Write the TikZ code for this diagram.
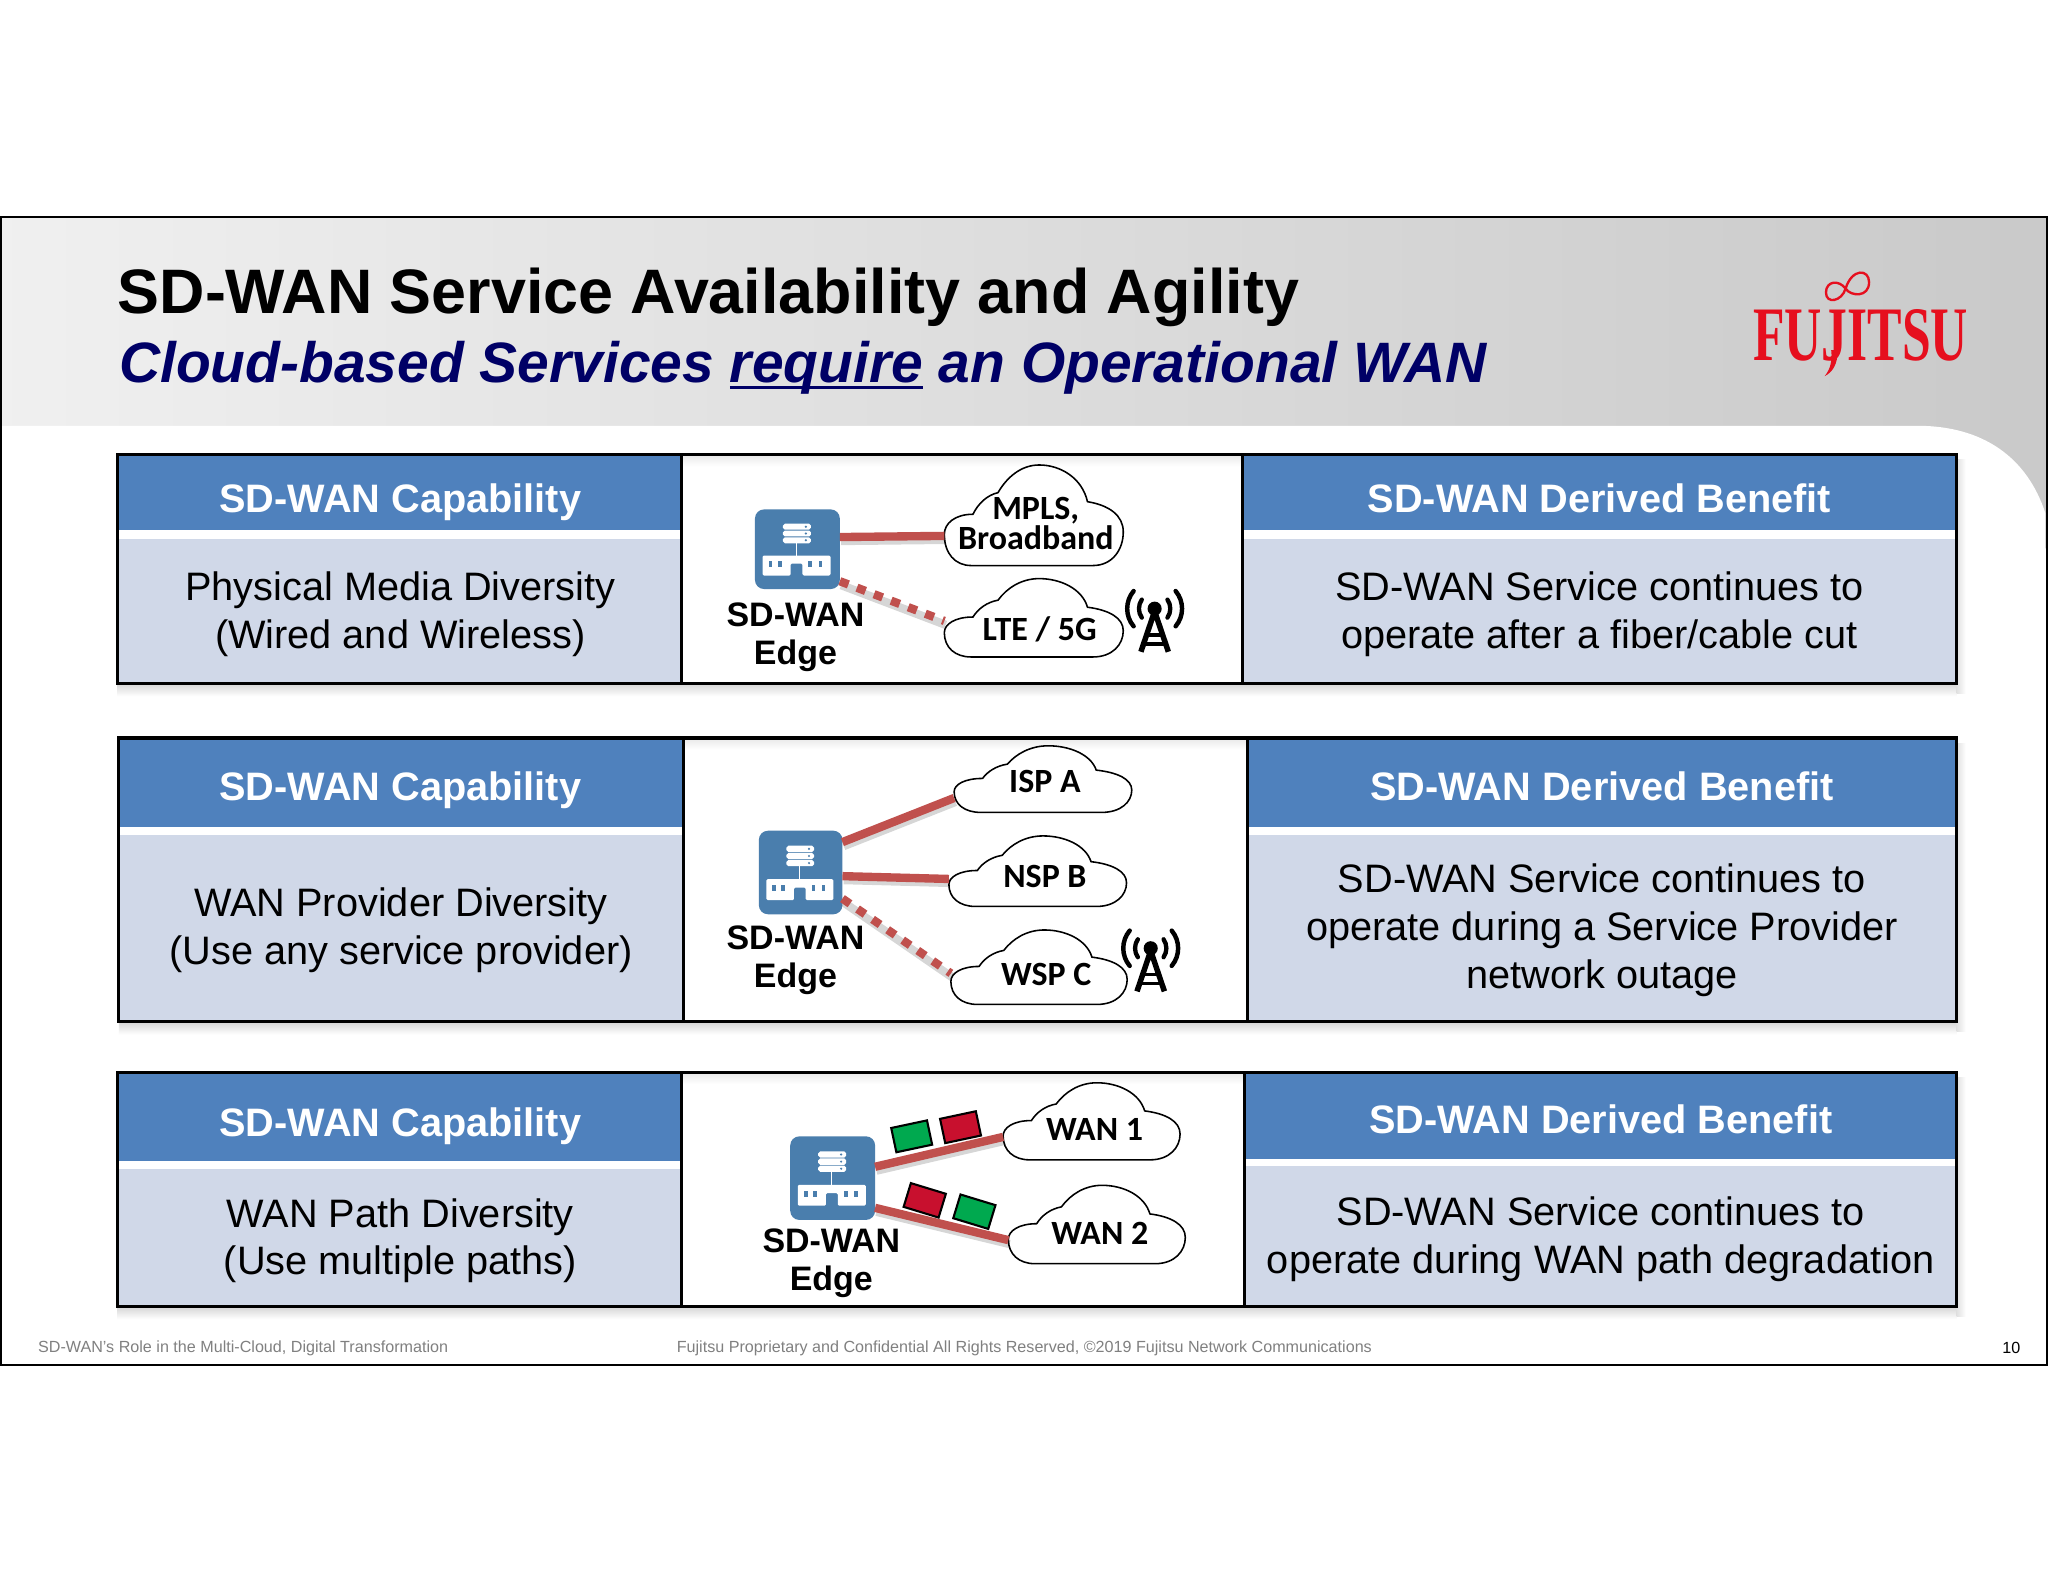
\documentclass[tikz,border=0pt]{standalone}
\usepackage{fontspec}
\setmainfont{Liberation Sans}
\newfontfamily\cloudfont{Carlito}
\newfontfamily\logofont{Liberation Serif}
\usetikzlibrary{calc}
\definecolor{hdrblue}{HTML}{4F81BD}
\definecolor{bodyblue}{HTML}{D0D8E8}
\definecolor{iconblue}{HTML}{4A7EAD}
\definecolor{linkred}{HTML}{C0504D}
\definecolor{navy}{HTML}{000066}
\definecolor{fjred}{HTML}{E60F1E}
\definecolor{pktgreen}{HTML}{00A94F}
\definecolor{pktred}{HTML}{C8102E}
\definecolor{footgray}{HTML}{808080}
\newcommand{\thickul}[1]{\setbox0\hbox{#1}\rlap{\rule[-4.6pt]{\wd0}{2.4pt}}#1}
\tikzset{
  hdr/.style={anchor=base,text=white,font=\bfseries\fontsize{30.4}{36}\selectfont,inner sep=0pt},
  bodytxt/.style={text=black,font=\fontsize{30.4}{36.6}\selectfont,align=center,inner sep=0pt},
  edgetxt/.style={text=black,font=\bfseries\fontsize{26}{29}\selectfont,align=center,inner sep=0pt},
  cloudtxt/.style={text=black,font=\cloudfont\bfseries\fontsize{26}{23}\selectfont,align=center,inner sep=0pt},
  foot/.style={text=footgray,font=\fontsize{12.35}{15}\selectfont,inner sep=0pt},
  linkbase/.style={line width=6.4pt,preaction={draw=black,draw opacity=.16,line width=6.4pt,transform canvas={xshift=1pt,yshift=-3pt}},draw=linkred},
  link/.style={linkbase},
  dlink/.style={linkbase,dash pattern=on 7pt off 7pt},
  pkt/.style={draw=black,line width=1.6pt,minimum width=28pt,minimum height=19pt,inner sep=0pt},
  hit/.style={inner sep=0pt,outer sep=0pt,rectangle},
}
% panel: x1 x2 ytop headerbottom stripbottom ybottom
\newcommand{\cellbox}[6]{%
  \fill[hdrblue] (#1,#3) rectangle (#2,#4);
  \fill[white] (#1,#4) rectangle (#2,#5);
  \fill[bodyblue] (#1,#5) rectangle (#2,#6);
}
% row frame: x1 xa xb x2 ytop ybottom
\newcommand{\rowframe}[6]{%
  \shade[top color=black!17,bottom color=white] (#1,#6) rectangle (#4,#6+10);
  \shade[left color=black!12,right color=white] (#4,#5+4) rectangle (#4+7,#6+8);
  \fill[white] (#2,#5) rectangle (#3,#6);
  \shade[top color=black!9,bottom color=white] (#2,#5) rectangle (#3,#5+9);
}
\newcommand{\rowlines}[6]{%
  \draw[black,line width=2.4pt] (#1,#5) rectangle (#4,#6);
  \draw[black,line width=2.2pt] (#2,#5) -- (#2,#6) (#3,#5) -- (#3,#6);
}
% cloud: name x1 y1 x2 y2
\newcommand{\netcloud}[5]{%
  \pgfmathsetmacro{\cw}{#4-#2}\pgfmathsetmacro{\ch}{#5-#3}%
  \begin{scope}[shift={(#2,#3)},x=\cw pt,y=-\ch pt]
    \draw[black,line width=1.2pt,fill=white]
      (.16,.49) .. controls (.06,.49) and (0,.58) .. (0,.69)
      .. controls (0,.88) and (.06,1) .. (.15,1) -- (.83,1)
      .. controls (.94,1) and (1,.84) .. (1,.665)
      .. controls (1,.5) and (.92,.40) .. (.80,.365)
      .. controls (.77,.13) and (.65,0) .. (.53,0)
      .. controls (.43,0) and (.35,.12) .. (.30,.275)
      .. controls (.24,.30) and (.19,.38) .. (.16,.49) -- cycle;
  \end{scope}
  \node[hit,minimum width=\cw pt,minimum height=\ch pt] (#1) at ({(#2+#4)/2},{(#3+#5)/2}) {};
}
% edge icon: name x1 y1 x2 y2
\newcommand{\edgeicon}[5]{%
  \pgfmathsetmacro{\cw}{#4-#2}\pgfmathsetmacro{\ch}{#5-#3}%
  \node[hit,fill=iconblue,rounded corners=7pt,minimum width=\cw pt,minimum height=\ch pt] (#1) at ({(#2+#4)/2},{(#3+#5)/2}) {};
  \begin{scope}[shift={(#2,#3)},x=\cw pt,y=-\ch pt]
    \foreach \yy in {.18,.265,.35}{
      \fill[white,rounded corners=1.5pt] (.33,\yy) rectangle (.66,\yy+.075);
      \fill[iconblue] (.60,\yy+.0375) circle[radius=.9pt];
    }
    \draw[white,line width=.9pt] (.49,.42) -- (.49,.6);
    \fill[white,rounded corners=1pt] (.09,.58) -- (.89,.58) -- (.89,.83) -- (.56,.83) -- (.56,.68) -- (.42,.68) -- (.42,.83) -- (.09,.83) -- cycle;
    \foreach \xx in {.16,.27,.63,.75}{
      \fill[iconblue] (\xx,.65) rectangle (\xx+.045,.72);
    }
  \end{scope}
}
% antenna: cx cy
\newcommand{\antenna}[2]{%
  \begin{scope}[shift={(#1,#2)},y=1pt]
    \draw[black,line width=3.3pt,line cap=round] (145:12) arc[start angle=145,end angle=215,radius=12pt];
    \draw[black,line width=3.3pt,line cap=round] (35:12) arc[start angle=35,end angle=-35,radius=12pt];
    \draw[black,line width=3.4pt,line cap=round] (140:21) arc[start angle=140,end angle=220,radius=21pt];
    \draw[black,line width=3.4pt,line cap=round] (40:21) arc[start angle=40,end angle=-40,radius=21pt];
    \fill[black] (0,0) circle[radius=5.4pt];
    \draw[black,line width=4.2pt] (-10.5,-33) -- (0,-2) -- (10.5,-33);
    \draw[black,line width=2.8pt] (-6,-20) -- (6,-20) (-8.5,-27) -- (8.5,-27);
  \end{scope}
}
\begin{document}
\begin{tikzpicture}[x=1pt,y=-1pt]
\useasboundingbox (0,0) rectangle (1568,1211.3);
\fill[white] (0,0) rectangle (1568,1211.3);
% slide background
\shade[left color=black!6,right color=black!21] (1,166) rectangle (1566,420);
\fill[white] (1,326) -- (1468,326) .. controls (1518,326) and (1552,350) .. (1566,393) -- (1566,1045) -- (1,1045) -- cycle;
\draw[black,line width=1.6pt] (1,166) rectangle (1567,1045);

% titles
\node[anchor=base west,inner sep=0pt,font=\bfseries\fontsize{48.1}{54}\selectfont] (title) at (90,240) {SD-WAN Service Availability and Agility};
\node[anchor=base west,inner sep=0pt,text=navy,font=\bfseries\itshape\fontsize{43.6}{50}\selectfont] (subtitle) at (91,293) {Cloud-based Services \thickul{require} an Operational WAN};

% logo
\node[anchor=base,inner sep=0pt,text=fjred,font=\logofont\bfseries\fontsize{59}{60}\selectfont,xscale=.67,transform shape] (logo) at (1424.5,276) {FUJITSU};
\fill[fjred] (1402,268) .. controls (1403,277) and (1401,283) .. (1397,288) .. controls (1403,285) and (1407,279) .. (1407,268) -- cycle;
\draw[fjred,line width=1.8pt] (1413,221) .. controls (1417,227) and (1431,228) .. (1431,216)
  .. controls (1431,206) and (1418,205) .. (1413,221)
  .. controls (1410,231) and (1398,233) .. (1398,224)
  .. controls (1398,215) and (1408,214) .. (1413,221) -- cycle;

% row frames and cells
\rowframe{90}{522}{951}{1498}{348}{523}
\cellbox{90}{522}{348}{406}{413}{523}
\cellbox{951}{1498}{348}{406}{413}{523}
\rowframe{91}{523}{955}{1498}{565}{782}
\cellbox{91}{523}{565}{633}{639}{782}
\cellbox{955}{1498}{565}{633}{639}{782}
\rowframe{90}{522}{953}{1498}{821}{1000}
\cellbox{90}{522}{821}{889}{895}{1000}
\cellbox{953}{1498}{821}{887}{893}{1000}
\rowlines{90}{522}{951}{1498}{348}{523}
\rowlines{91}{523}{955}{1498}{565}{782}
\rowlines{90}{522}{953}{1498}{821}{1000}

% row 1 texts
\node[hdr] (h1l) at (306.5,392) {SD-WAN Capability};
\node[hdr] (h1r) at (1224.5,392) {SD-WAN Derived Benefit};
\node[bodytxt] (b1l) at (306.5,470) {Physical Media Diversity\\(Wired and Wireless)};
\node[bodytxt] (b1r) at (1224.5,470) {SD-WAN Service continues to\\operate after a fiber/cable cut};
% row 2 texts
\node[hdr] (h2l) at (306.5,613) {SD-WAN Capability};
\node[hdr] (h2r) at (1226.5,613) {SD-WAN Derived Benefit};
\node[bodytxt] (b2l) at (307,712.5) {WAN Provider Diversity\\(Use any service provider)};
\node[bodytxt] (b2r) at (1226.5,712) {SD-WAN Service continues to\\operate during a Service Provider\\network outage};
% row 3 texts
\node[hdr] (h3l) at (306.5,870) {SD-WAN Capability};
\node[hdr] (h3r) at (1225.5,868) {SD-WAN Derived Benefit};
\node[bodytxt] (b3l) at (306.5,950) {WAN Path Diversity\\(Use multiple paths)};
\node[bodytxt] (b3r) at (1225.5,948.5) {SD-WAN Service continues to\\operate during WAN path degradation};

% row 1 diagram
\netcloud{mpls}{723}{356}{860}{433}
\netcloud{lte}{723}{443}{860}{503}
\edgeicon{e1}{578}{390}{643}{451}
\draw[link] (e1.16) -- (mpls.193);
\draw[dlink] (e1.323) -- (lte.182);
\node[cloudtxt] (mplst) at (793,401) {MPLS,\\Broadband};
\node[cloudtxt] (ltet) at (796,482) {LTE / 5G};
\node[edgetxt] (e1t) at (609,488) {SD-WAN\\Edge};
\antenna{884}{466}
% row 2 diagram
\netcloud{ispa}{730.5}{571}{866.5}{622}
\netcloud{nspb}{726.5}{640}{862.5}{694}
\netcloud{wspc}{728}{712}{863}{769}
\edgeicon{e2}{581}{636}{645}{700}
\draw[link] (e2.36) -- (ispa.192);
\draw[link] (e2.355) -- (nspb.185);
\draw[dlink] (e2.328) -- (wspc.184);
\node[cloudtxt] (ispat) at (800,598) {ISP A};
\node[cloudtxt] (nspbt) at (800,671) {NSP B};
\node[cloudtxt] (wspct) at (801,746) {WSP C};
\node[edgetxt] (e2t) at (609,735) {SD-WAN\\Edge};
\antenna{881}{726}
% row 3 diagram
\netcloud{wan1}{768}{829}{903.5}{888}
\netcloud{wan2}{772}{907.5}{907.5}{967.5}
\edgeicon{e3}{605}{870}{670}{934}
\draw[link] (e3.15) -- (wan1.190);
\draw[link] (e3.325) -- (wan2.190);
\node[pkt,fill=pktgreen,rotate=12] (p1) at (698,870) {};
\node[pkt,fill=pktred,rotate=12] (p2) at (735.4,863) {};
\node[pkt,fill=pktred,rotate=-17] (p3) at (708,919) {};
\node[pkt,fill=pktgreen,rotate=-17] (p4) at (746,927.7) {};
\node[cloudtxt] (wan1t) at (838,865) {WAN 1};
\node[cloudtxt] (wan2t) at (842,944) {WAN 2};
\node[edgetxt] (e3t) at (636.5,967) {SD-WAN\\Edge};

% footer
\node[foot,anchor=west] (f1) at (29,1032) {SD-WAN's Role in the Multi-Cloud, Digital Transformation};
\node[foot,anchor=west] (f2) at (518,1032) {Fujitsu Proprietary and Confidential All Rights Reserved, ©2019 Fujitsu Network Communications};
\node[anchor=east,inner sep=0pt,font=\fontsize{12.35}{15}\selectfont] (f3) at (1547,1032) {10};
\end{tikzpicture}
\end{document}
